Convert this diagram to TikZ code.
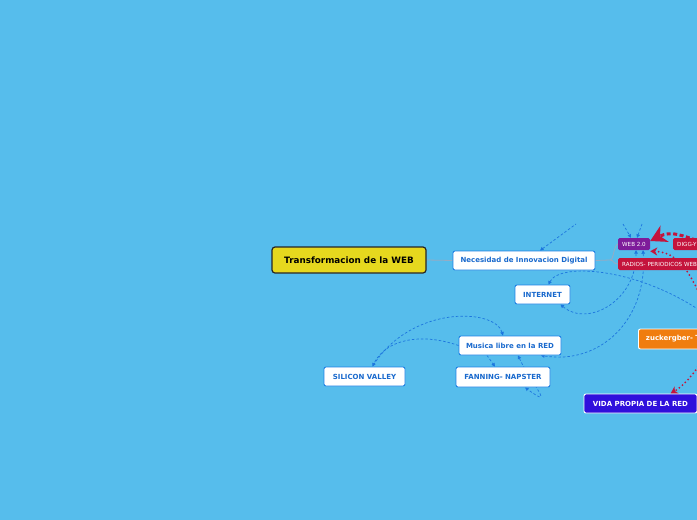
\documentclass[tikz,border=0pt]{standalone}
\usepackage{fontspec}
\setmainfont{DejaVu Sans}
\usetikzlibrary{arrows.meta,backgrounds}
\definecolor{bg}{RGB}{86,189,236}
\definecolor{nborder}{RGB}{30,128,228}
\definecolor{ntext}{RGB}{25,105,205}
\definecolor{relc}{RGB}{28,118,222}
\definecolor{mainfill}{RGB}{230,216,30}
\definecolor{purp}{RGB}{126,28,154}
\definecolor{crim}{RGB}{196,20,60}
\definecolor{orng}{RGB}{240,125,15}
\definecolor{indig}{RGB}{48,16,220}
\definecolor{graylink}{RGB}{150,172,196}
\begin{document}
\begin{tikzpicture}[x=1pt,y=-1pt,
  topic/.style={draw=nborder, fill=white, rounded corners=2pt, line width=0.9pt,
    text=ntext, font=\bfseries\fontsize{7}{8}\selectfont, inner sep=0pt, minimum height=19pt},
  maintopic/.style={draw=black!85, fill=mainfill, rounded corners=3pt, line width=1.2pt,
    text=black, font=\bfseries\fontsize{8.8}{10}\selectfont, inner sep=0pt,
    minimum width=154pt, minimum height=26pt},
  tag/.style={rounded corners=1.5pt, text=white, font=\fontsize{5.6}{6.5}\selectfont,
    inner ysep=0pt, inner xsep=4pt, minimum height=12pt},
  relline/.style={draw=relc, line width=0.7pt, dash pattern=on 2.5pt off 2pt,
    -{Triangle[length=3.5pt,width=3.5pt]}},
  relboth/.style={relline, {Triangle[length=3.5pt,width=3.5pt]}-{Triangle[length=3.5pt,width=3.5pt]}},
  relback/.style={relline, {Triangle[length=3.5pt,width=3.5pt]}-},
  graylinkst/.style={draw=graylink, line width=0.8pt},
  redthick/.style={draw=crim, line width=3pt, dash pattern=on 4pt off 2.5pt,
    -{Stealth[length=16pt,width=18pt,inset=5pt]}},
  reddot/.style={draw=crim, line width=2pt, dash pattern=on 0pt off 4pt, line cap=round,
    -{Stealth[length=7pt,width=8pt,inset=2pt,line cap=butt]}}
]
\useasboundingbox (0,0) rectangle (697,520);
\clip (0,0) rectangle (697,520);

% nodes
\node[maintopic] (main) at (349,260) {Transformacion de la WEB};
\node[topic, minimum width=142pt] (nec) at (524,260.5) {Necesidad de Innovacion Digital};
\node[topic, minimum width=55pt] (internet) at (542.5,294.5) {INTERNET};
\node[topic, minimum width=102pt] (musica) at (510,345.5) {Musica libre en la RED};
\node[topic, minimum width=81pt] (silicon) at (364.5,376.5) {SILICON VALLEY};
\node[topic, minimum width=94pt, minimum height=20pt] (fanning) at (503,377) {FANNING- NAPSTER};
\node[tag, fill=purp, minimum width=32pt] (web) at (634,244) {WEB 2.0};
\node[tag, fill=crim, anchor=west, text width=60pt, align=left] (digg) at (673,244) {DIGG-Y};
\node[tag, fill=crim, anchor=west, text width=110pt, align=left] (radios) at (618,264) {RADIOS- PERIODICOS WEB};
\node[topic, draw=white, fill=orng, text=white, anchor=west, inner xsep=7.5pt,
  text width=80pt, align=left, minimum height=20pt] (zuck) at (638,339) {zuckergber- T};
\node[topic, draw=white, fill=indig, text=white, minimum width=113pt] (vida) at (640.5,403.5) {VIDA PROPIA DE LA RED};

% free ends
\coordinate (f1) at (576,224);
\coordinate (f2) at (623,224);
\coordinate (f3) at (642,224);
\coordinate (f4) at (705,314);
\coordinate (br) at (610,260);
\coordinate (r1) at (702,242);
\coordinate (r2) at (702,300);
\coordinate (r3) at (702,360);

\begin{pgfonlayer}{background}
\fill[bg] (-10,-10) rectangle (710,530);
% tree links
\draw[graylinkst] (main.east) -- (nec.west);
\draw[graylinkst] (nec.east) -- (br);
\draw[graylinkst] (br) .. controls (614,260) and (613,247) .. (web.west);
\draw[graylinkst] (br) .. controls (614,260) and (613,264) .. (radios.west);
% relations
\draw[relback] ([xshift=16pt]nec.north) -- (f1);
\draw[relline] (f2) -- ([xshift=-3pt]web.north);
\draw[relline] (f3) -- ([xshift=3pt]web.north);
\draw[relboth] ([xshift=2pt]web.south) .. controls (637,300) and (588,328) .. ([xshift=18pt]internet.south);
\draw[relboth] ([xshift=9pt]web.south) .. controls (648,320) and (600,365) .. ([xshift=31pt]musica.south);
\draw[relback] ([xshift=6pt]internet.north) .. controls (560,262) and (640,268) .. (f4);
\draw[relback] ([xshift=-7pt]musica.north) .. controls (495,308) and (410,305) .. ([xshift=8pt]silicon.north);
\draw[relline] (musica.west) .. controls (420,332) and (385,340) .. ([xshift=8pt]silicon.north);
\draw[relline] ([xshift=-23pt]musica.south) -- ([xshift=-8pt]fanning.north);
\draw[relboth] ([xshift=8pt]musica.south) .. controls (532,385) and (556,410) .. ([xshift=22pt]fanning.south);
% red links
\draw[redthick] (r1) .. controls (682,236) and (672,230) .. ([yshift=3pt]web.east);
\draw[reddot] (r2) .. controls (686,262) and (672,252) .. ([yshift=-1pt]web.south east);
\draw[reddot] (r3) .. controls (692,378) and (680,388) .. ([xshift=30pt]vida.north);
\end{pgfonlayer}
\end{tikzpicture}
\end{document}
